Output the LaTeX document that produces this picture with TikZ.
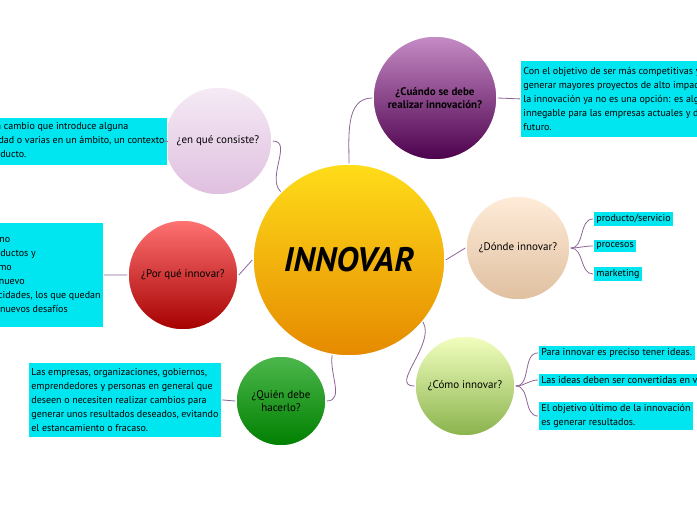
\documentclass[tikz,border=0pt]{standalone}
\usepackage{fontspec}
\setmainfont{PT Sans}
\definecolor{cy}{RGB}{0,230,240}
\definecolor{ln}{RGB}{140,100,150}
\begin{document}
\begin{tikzpicture}[x=1pt,y=-1pt,
 bub/.style={circle,draw=white,line width=1.5pt,align=center,font=\fontsize{11}{13}\selectfont,inner sep=0pt},
 tbox/.style={fill=cy,draw=white,line width=0.8pt,align=left,anchor=north west,inner sep=3pt,font=\fontsize{10}{14}\selectfont},
 con/.style={draw=ln,line width=0.8pt}]
\useasboundingbox (0,0) rectangle (697,520);
\node[bub,minimum size=192pt,top color=yellow!70!orange!90!white,bottom color=orange!80!yellow!90!black,font=\bfseries\itshape\fontsize{34}{36}\selectfont] (c) at (349,260) {INNOVAR};
\node[bub,minimum size=124pt,top color=violet!45!white,bottom color=violet!60!black] (cu) at (435,98) {\bfseries ¿Cuándo se debe\\\bfseries realizar innovación?};
\node[bub,minimum size=104pt,top color=orange!15!white,bottom color=brown!50!white] (do) at (518,248) {¿Dónde innovar?};
\node[bub,minimum size=100pt,top color=green!20!yellow!25!white,bottom color=green!40!yellow!40!gray] (co) at (465,386) {¿Cómo innovar?};
\node[bub,minimum size=90pt,top color=green!60!black!70!white,bottom color=green!50!black] (qu) at (281,401) {¿Quién debe\\hacerlo?};
\node[bub,minimum size=110pt,top color=red!55!white,bottom color=red!65!black] (po) at (183,275) {¿Por qué innovar?};
\node[bub,minimum size=108pt,top color=violet!8!white,bottom color=violet!25!white] (en) at (218,141) {¿en qué consiste?};
\draw[con] (c.north) to[out=90,in=180] (cu.west);
\draw[con] (c.east) -- (do.west);
\draw[con] (c.-40) to[out=-60,in=180] (co.west);
\draw[con] (c.-100) to[out=-100,in=0] (qu.east);
\draw[con] (c.west) -- (po.east);
\draw[con] (c.135) to[out=135,in=0] (en.east);
\node[tbox,minimum width=177pt,minimum height=77pt] (b1) at (520,60) {Con el objetivo de ser más competitivas y\\generar mayores proyectos de alto impacto,\\la innovación ya no es una opción: es algo\\innegable para las empresas actuales y del\\futuro.};
\node[tbox,anchor=north east,minimum height=48pt] (b2) at (168,117) {Es un cambio que introduce alguna\\novedad o varias en un ámbito, un contexto\\o producto.};
\node[tbox,anchor=north east,minimum height=105pt] (b3) at (104,222) {Es algo que tiene como\\resultado nuevos productos y\\procesos. Genera, como\\efecto fundamental, nuevo\\conocimiento y capacidades, los que quedan\\aptos para enfrentar nuevos desafíos};
\node[tbox,minimum width=183pt,minimum height=75pt] (b4) at (28,362) {Las empresas, organizaciones, gobiernos,\\emprendedores y personas en general que\\deseen o necesiten realizar cambios para\\generar unos resultados deseados, evitando\\el estancamiento o fracaso.};
\node[tbox] (d1) at (593,211) {producto/servicio};
\node[tbox] (d2) at (593,239) {procesos};
\node[tbox] (d3) at (593,266) {marketing};
\node[tbox] (k1) at (538,345) {Para innovar es preciso tener ideas.};
\node[tbox] (k2) at (538,373) {Las ideas deben ser convertidas en valor.};
\node[tbox] (k3) at (538,401) {El objetivo último de la innovación\\es generar resultados.};
\draw[con] (cu.east) -- (b1.west);
\draw[con] (en.west) -- (b2.east);
\draw[con] (po.west) -- (b3.east);
\draw[con] (qu.west) -- (b4.east);
\foreach \n in {d1,d2,d3} \draw[con] (do.east) to[out=0,in=180] (\n.west);
\foreach \n in {k1,k2,k3} \draw[con] (co.east) to[out=0,in=180] (\n.west);
\end{tikzpicture}
\end{document}
